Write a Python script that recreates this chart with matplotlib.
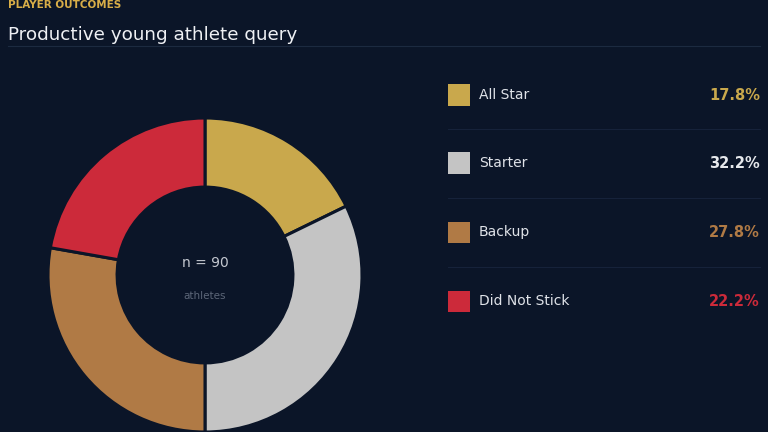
import matplotlib
matplotlib.use("Agg")
import matplotlib.pyplot as plt
from matplotlib.patches import Rectangle
from matplotlib.lines import Line2D

# Data
labels = ["All Star", "Starter", "Backup", "Did Not Stick"]
counts = [16, 29, 25, 20]
colors = ["#c9a84c", "#c4c4c4", "#b07a45", "#cc2a3a"]
total = sum(counts)
pcts = [100.0 * c / total for c in counts]

bg = "#0b1528"
W, H = 768, 432

fig = plt.figure(figsize=(7.68, 4.32), dpi=100, facecolor=bg)

# header
fig.text(8 / W, 1 - 5 / H, "PLAYER OUTCOMES", color="#d9ae48", fontsize=7.5,
         fontweight="bold", ha="left", va="center")
fig.text(8 / W, 1 - 35 / H, "Productive young athlete query", color="#eef0f4",
         fontsize=13.2, ha="left", va="center")
fig.add_artist(Line2D([8 / W, 760 / W], [1 - 45.5 / H] * 2, color="#1c2a40", lw=0.8))

# donut
cx, cy, r = 205, 275, 157
ax = fig.add_axes([(cx - r) / W, 1 - (cy + r) / H, 2 * r / W, 2 * r / H])
ax.set_facecolor(bg)
ax.pie(counts, colors=colors, startangle=90, counterclock=False, radius=1,
       wedgeprops=dict(width=0.44, edgecolor=bg, linewidth=2.2))
ax.set_xlim(-1, 1)
ax.set_ylim(-1, 1)
ax.set_aspect("equal")
ax.axis("off")
fig.text(cx / W, 1 - 263 / H, "n = {}".format(total), color="#c4c8d0",
         fontsize=10, ha="center", va="center")
fig.text(cx / W, 1 - 296 / H, "athletes", color="#5c6678",
         fontsize=7.5, ha="center", va="center")

# legend rows
row_y = [95, 163, 232, 301]
for i, (lab, p, col) in enumerate(zip(labels, pcts, colors)):
    y = row_y[i]
    fig.add_artist(Rectangle((448 / W, 1 - (y + 10.5) / H), 22 / W, 21 / H,
                             facecolor=col, edgecolor="none",
                             transform=fig.transFigure))
    fig.text(479 / W, 1 - y / H, lab, color="#dfe2e8", fontsize=10,
             ha="left", va="center")
    fig.text(760 / W, 1 - y / H, "{:.1f}%".format(p),
             color=("#e6e8ec" if i == 1 else col), fontsize=10.5,
             fontweight="bold", ha="right", va="center")
    if i < len(labels) - 1:
        sy = (row_y[i] + row_y[i + 1]) / 2
        fig.add_artist(Line2D([448 / W, 760 / W], [1 - sy / H] * 2,
                              color="#16223a", lw=0.8))

fig.savefig("out.png", dpi=100, facecolor=bg)
